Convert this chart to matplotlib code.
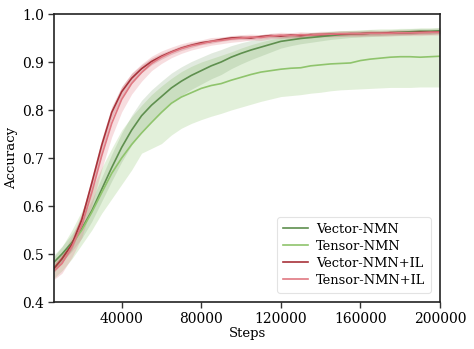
import numpy as np
import matplotlib
matplotlib.use("Agg")
import matplotlib.pyplot as plt

plt.rcParams["font.family"] = ["DejaVu Serif"]

steps = [6000, 10000, 15000, 20000, 25000, 30000, 35000, 40000, 45000, 50000,
         55000, 60000, 65000, 70000, 75000, 80000, 85000, 90000, 95000, 100000,
         105000, 110000, 115000, 120000, 125000, 130000, 135000, 140000, 145000, 150000,
         155000, 160000, 165000, 170000, 175000, 180000, 185000, 190000, 195000, 200000]

vector_nmn = [0.483, 0.500, 0.524, 0.553, 0.590, 0.635, 0.680, 0.722, 0.758, 0.788,
              0.810, 0.828, 0.846, 0.860, 0.872, 0.882, 0.892, 0.900, 0.910, 0.918,
              0.925, 0.931, 0.937, 0.943, 0.946, 0.949, 0.951, 0.953, 0.955, 0.957,
              0.958, 0.959, 0.960, 0.960, 0.961, 0.962, 0.963, 0.964, 0.964, 0.965]
vector_nmn_std = [0.015, 0.016, 0.018, 0.020, 0.022, 0.025, 0.028, 0.030, 0.031, 0.032,
                  0.032, 0.032, 0.031, 0.030, 0.029, 0.028, 0.027, 0.026, 0.024, 0.022,
                  0.020, 0.018, 0.016, 0.014, 0.012, 0.011, 0.010, 0.009, 0.008, 0.008,
                  0.007, 0.007, 0.007, 0.006, 0.006, 0.006, 0.006, 0.006, 0.006, 0.006]

tensor_nmn = [0.470, 0.490, 0.520, 0.550, 0.587, 0.628, 0.668, 0.700, 0.728, 0.752,
              0.774, 0.795, 0.814, 0.827, 0.836, 0.845, 0.851, 0.855, 0.862, 0.868,
              0.874, 0.879, 0.882, 0.885, 0.887, 0.888, 0.892, 0.894, 0.896, 0.897,
              0.898, 0.903, 0.906, 0.908, 0.910, 0.911, 0.911, 0.910, 0.911, 0.912]
tensor_nmn_low = [0.450, 0.465, 0.490, 0.520, 0.550, 0.585, 0.615, 0.645, 0.675, 0.710,
                  0.720, 0.730, 0.748, 0.762, 0.772, 0.780, 0.787, 0.793, 0.800, 0.806,
                  0.812, 0.818, 0.823, 0.828, 0.830, 0.832, 0.835, 0.837, 0.840, 0.842,
                  0.843, 0.844, 0.845, 0.846, 0.847, 0.847, 0.847, 0.848, 0.848, 0.848]
tensor_nmn_high = [0.495, 0.515, 0.550, 0.590, 0.635, 0.680, 0.720, 0.758, 0.786, 0.810,
                   0.832, 0.850, 0.866, 0.880, 0.891, 0.900, 0.907, 0.914, 0.921, 0.929,
                   0.936, 0.942, 0.947, 0.951, 0.955, 0.958, 0.960, 0.962, 0.964, 0.965,
                   0.966, 0.967, 0.968, 0.969, 0.969, 0.970, 0.970, 0.971, 0.971, 0.972]

vector_nmn_il = [0.470, 0.490, 0.520, 0.572, 0.648, 0.727, 0.795, 0.838, 0.866, 0.886,
                 0.901, 0.912, 0.921, 0.929, 0.935, 0.940, 0.943, 0.947, 0.950, 0.951,
                 0.950, 0.953, 0.955, 0.954, 0.956, 0.955, 0.957, 0.957, 0.958, 0.958,
                 0.959, 0.959, 0.960, 0.960, 0.961, 0.961, 0.961, 0.962, 0.962, 0.963]
vector_nmn_il_std = [0.008, 0.009, 0.010, 0.012, 0.013, 0.013, 0.012, 0.011, 0.010, 0.008,
                     0.007, 0.006, 0.005, 0.005, 0.005, 0.004, 0.004, 0.004, 0.004, 0.004,
                     0.004, 0.004, 0.004, 0.004, 0.004, 0.004, 0.004, 0.004, 0.004, 0.004,
                     0.004, 0.004, 0.004, 0.004, 0.004, 0.004, 0.004, 0.004, 0.004, 0.004]

tensor_nmn_il = [0.465, 0.480, 0.515, 0.560, 0.628, 0.705, 0.772, 0.822, 0.855, 0.878,
                 0.897, 0.910, 0.920, 0.928, 0.934, 0.938, 0.943, 0.945, 0.948, 0.950,
                 0.952, 0.951, 0.954, 0.956, 0.955, 0.957, 0.956, 0.958, 0.958, 0.959,
                 0.959, 0.959, 0.960, 0.960, 0.960, 0.961, 0.961, 0.961, 0.962, 0.962]
tensor_nmn_il_std = [0.018, 0.020, 0.022, 0.025, 0.027, 0.028, 0.028, 0.026, 0.022, 0.018,
                     0.015, 0.013, 0.011, 0.010, 0.009, 0.008, 0.008, 0.007, 0.007, 0.007,
                     0.006, 0.006, 0.006, 0.006, 0.006, 0.006, 0.006, 0.006, 0.006, 0.006,
                     0.006, 0.006, 0.006, 0.006, 0.006, 0.006, 0.006, 0.006, 0.006, 0.006]

x_ticks = [40000, 80000, 120000, 160000, 200000]
y_ticks = [0.4, 0.5, 0.6, 0.7, 0.8, 0.9, 1.0]

c_vec = "#5e8f4e"
c_ten = "#8fc46c"
c_vec_il = "#a8323a"
c_ten_il = "#e07882"

fig = plt.figure(figsize=(4.74, 3.49), dpi=100)
ax = fig.add_axes([54 / 474, 1 - 302 / 349, 386 / 474, 288 / 349])

x = np.array(steps)

def band(mean, std, color, alpha):
    m = np.array(mean)
    s = np.array(std)
    ax.fill_between(x, m - s, m + s, color=color, alpha=alpha, lw=0)

ax.fill_between(x, tensor_nmn_low, tensor_nmn_high, color=c_ten, alpha=0.25, lw=0)
band(vector_nmn, vector_nmn_std, c_vec, 0.18)
band(tensor_nmn_il, tensor_nmn_il_std, c_ten_il, 0.25)
band(vector_nmn_il, vector_nmn_il_std, c_vec_il, 0.2)

ax.plot(x, vector_nmn, color=c_vec, lw=1.2, label="Vector-NMN")
ax.plot(x, tensor_nmn, color=c_ten, lw=1.2, label="Tensor-NMN")
ax.plot(x, vector_nmn_il, color=c_vec_il, lw=1.2, label="Vector-NMN+IL")
ax.plot(x, tensor_nmn_il, color=c_ten_il, lw=1.2, label="Tensor-NMN+IL")

ax.set_xlim(6000, 200000)
ax.set_ylim(0.4, 1.0)
ax.set_xticks(x_ticks)
ax.set_yticks(y_ticks)
ax.set_xticklabels([str(t) for t in x_ticks])
ax.set_yticklabels([f"{t:.1f}" for t in y_ticks])
ax.tick_params(labelsize=10, length=4, width=1, color="#333333", pad=3)
for sp in ax.spines.values():
    sp.set_color("#222222")
    sp.set_linewidth(1.2)

ax.set_xlabel("Steps", fontsize=9.5, labelpad=1)
ax.set_ylabel("Accuracy", fontsize=9.5, labelpad=3)

leg = ax.legend(loc="lower right", fontsize=9.4, frameon=True, fancybox=True,
                handlelength=1.9, handletextpad=0.6, borderpad=0.45,
                labelspacing=0.3, bbox_to_anchor=(0.993, 0.01))
leg.get_frame().set_edgecolor("#dddddd")
leg.get_frame().set_linewidth(0.8)

fig.savefig("out.png", dpi=100)
